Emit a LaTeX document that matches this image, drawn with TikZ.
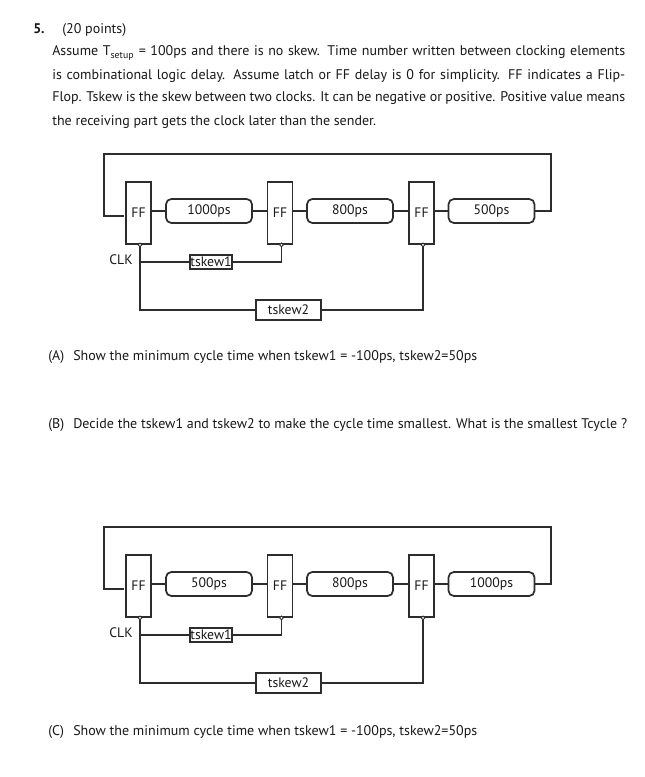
\documentclass[tikz,border=0pt]{standalone}
\usepackage{fontspec}
\setmainfont{PT Sans}
\definecolor{lc}{RGB}{45,45,45}
\definecolor{tc}{RGB}{25,25,25}
\newcommand\tfont{\fontsize{10.5pt}{12pt}\selectfont}
\newcommand\dfont{\fontsize{10.3pt}{11pt}\selectfont}
\tikzset{
  ffbox/.style={draw=lc, line width=1.3pt, minimum width=18.75pt, minimum height=46.5pt, inner sep=0pt, font=\dfont, text=tc},
  logic/.style={draw=lc, line width=1.3pt, rounded corners=4pt, minimum width=64.5pt, minimum height=18pt, inner sep=0pt, font=\dfont, text=tc},
  skewbox/.style={draw=lc, line width=1.3pt, inner sep=0pt, font=\dfont, text=tc},
  wire/.style={draw=lc, line width=1.1pt},
  txt/.style={anchor=base west, inner sep=0pt, font=\tfont, text=tc},
}
% #1 prefix, #2 y shift (px), #3 first delay, #4 last delay
\newcommand\mydiagram[4]{%
\begin{scope}[shift={(0,#2)}]
  \node[ffbox] (#1ff1) at (138.5,213) {FF};
  \node[ffbox] (#1ff2) at (280,213) {FF};
  \node[ffbox] (#1ff3) at (421.5,213) {FF};
  \node[logic] (#1L1) at (209,211) {#3};
  \node[logic] (#1L2) at (350,211) {800ps};
  \node[logic] (#1L3) at (491.5,211) {#4};
  \node[skewbox, minimum width=31.5pt, minimum height=10.5pt] (#1T1) at (211,262) {tskew1};
  \node[skewbox, minimum width=48.75pt, minimum height=15pt] (#1T2) at (288.5,310) {tskew2};
  \node[font=\dfont, text=tc, inner sep=0pt] (#1clk) at (121,260) {CLK};
  \coordinate (#1tl) at (104,154);
  \coordinate (#1tr) at (551,154);
  \coordinate (#1fin) at (124,216);
  \coordinate (#1ck1) at ([xshift=1.1pt]#1ff1.south);
  \coordinate (#1ck2) at ([xshift=1.1pt]#1ff2.south);
  \coordinate (#1ck3) at ([xshift=1.1pt]#1ff3.south);
  \draw[wire] (#1L3.east) -| (#1tr) -- (#1tl) |- (#1fin);
  \draw[wire] (#1ff1.east |- #1L1.west) -- (#1L1.west);
  \draw[wire] (#1L1.east) -- (#1L1.east -| #1ff2.west);
  \draw[wire] (#1ff2.east |- #1L2.west) -- (#1L2.west);
  \draw[wire] (#1L2.east) -- (#1L2.east -| #1ff3.west);
  \draw[wire] (#1ff3.east |- #1L3.west) -- (#1L3.west);
  \draw[wire] (#1ck1) |- (#1T2.west);
  \draw[wire] (#1T2.east) -| (#1ck3);
  \draw[wire] (#1ck1 |- #1T1.west) -- (#1T1.west);
  \draw[wire] (#1T1.east) -| (#1ck2);
  \foreach \c in {ck1,ck2,ck3} \draw[lc, line width=0.6pt, fill=white] (#1\c) circle (1.4pt);
\end{scope}}
\begin{document}
\begin{tikzpicture}[x=0.75pt,y=-0.75pt]
\useasboundingbox (0,0) rectangle (645,777);
\fill[white] (0,0) rectangle (645,777);
\node[txt, font=\tfont\bfseries] (num) at (33,34) {5.};
\node[txt] (pts) at (62,34) {(20 points)};
\node[txt] (l1) at (52,56) {\makebox[429.75pt][s]{Assume T\textsubscript{setup} = 100ps and there is no skew. Time number written between clocking elements}};
\node[txt] (l2) at (52,80) {\makebox[429.75pt][s]{is combinational logic delay. Assume latch or FF delay is 0 for simplicity. FF indicates a Flip-}};
\node[txt] (l3) at (52,102) {\makebox[429.75pt][s]{Flop. Tskew is the skew between two clocks. It can be negative or positive. Positive value means}};
\node[txt] (l4) at (52,126) {the receiving part gets the clock later than the sender.};
\mydiagram{a}{0}{1000ps}{500ps}
\node[txt] (qa) at (48,360) {\makebox[18.75pt][l]{(A)}Show the minimum cycle time when tskew1 = -100ps, tskew2=50ps};
\node[txt] (qb) at (48,428) {\makebox[18.75pt][l]{(B)}Decide the tskew1 and tskew2 to make the cycle time smallest. What is the smallest Tcycle ?};
\mydiagram{b}{373}{500ps}{1000ps}
\node[txt] (qc) at (48,735) {\makebox[18.75pt][l]{(C)}Show the minimum cycle time when tskew1 = -100ps, tskew2=50ps};
\end{tikzpicture}
\end{document}
